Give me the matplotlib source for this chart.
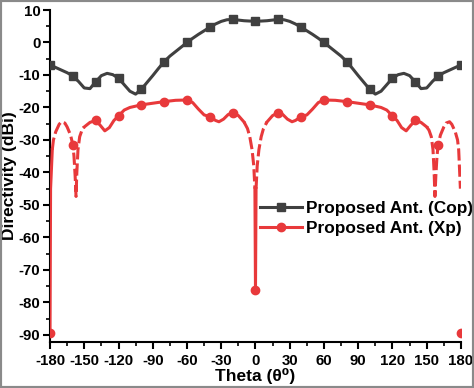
import numpy as np
import matplotlib
matplotlib.use("Agg")
import matplotlib.pyplot as plt
from matplotlib.patches import Rectangle

plt.rcParams['font.family'] = ['Liberation Sans', 'DejaVu Sans']
plt.rcParams['font.weight'] = 'bold'
plt.rcParams['axes.unicode_minus'] = False

# ---- data ----
cop_half_theta = [-180, -175, -170, -165, -160, -155, -150, -145, -140, -135, -130, -125,
                  -120, -115, -110, -105, -100, -95, -90, -85, -80, -75, -70, -65, -60,
                  -55, -50, -45, -40, -35, -30, -25, -20, -15, -10, -5, 0]
cop_half_val = [-6.9, -7.7, -8.5, -9.3, -10.3, -12.0, -14.0, -14.2, -12.1, -10.2, -9.5, -9.9,
                -11.0, -13.0, -15.0, -15.9, -14.4, -12.3, -10.2, -8.0, -5.9, -4.2, -2.8, -1.4, 0.0,
                1.3, 2.5, 3.6, 4.7, 5.7, 6.5, 7.0, 7.1, 6.9, 6.7, 6.6, 6.6]

xp_half_theta = [-180, -179.5, -178, -177, -175, -172, -170, -167, -165, -162, -160, -159,
                 -158, -157.2, -156.5, -155.5, -154, -152, -150, -145, -140, -136, -132,
                 -128, -124, -120, -115, -110, -105, -100, -90, -80, -70, -60, -55, -50,
                 -45, -40, -35, -32, -28, -24, -20, -15, -10, -7, -5, -3, -1.5, -0.5, 0]
xp_half_val = [-89.5, -45.0, -33.0, -30.0, -27.5, -25.2, -24.4, -24.8, -26.0, -28.5, -31.5, -35.0,
               -41.0, -47.4, -40.0, -33.0, -29.0, -27.0, -26.0, -24.6, -24.0, -25.5, -27.2,
               -26.2, -24.0, -22.6, -20.8, -20.0, -19.6, -19.2, -18.7, -18.2, -17.8, -17.7, -18.5, -20.5,
               -22.3, -22.8, -24.0, -24.4, -23.6, -22.2, -21.6, -22.5, -24.5, -26.5, -29.0, -33.0, -38.0, -45.0, -76.2]

# full symmetric pattern
cop_theta = np.array(cop_half_theta + [-t for t in cop_half_theta[-2::-1]])
cop_val = np.array(cop_half_val + cop_half_val[-2::-1])
xp_theta = np.array(xp_half_theta + [-t for t in xp_half_theta[-2::-1]])
xp_val = np.array(xp_half_val + xp_half_val[-2::-1])

x_ticks = [-180, -150, -120, -90, -60, -30, 0, 30, 60, 90, 120, 150, 180]
y_ticks = [10, 0, -10, -20, -30, -40, -50, -60, -70, -80, -90]
labels = ['Proposed Ant. (Cop)', 'Proposed Ant. (Xp)']

cop_color = '#404040'
xp_color = '#e8393b'

fig = plt.figure(figsize=(4.74, 3.88), dpi=100)
ax = fig.add_axes([0.1055, 0.1186, 0.867, 0.8556])

# Cop
ax.plot(cop_theta, cop_val, color=cop_color, lw=2.2, zorder=3)
mk = np.isclose(np.mod(cop_theta, 20), 0)
ax.plot(cop_theta[mk], cop_val[mk], ls='none', marker='s', ms=5.5, color=cop_color, zorder=4)

# Xp: solid in the smooth part and the deep verticals, dashed in the steep parts
dash = (0, (4.0, 1.3))
segments = [(-180, -178, '-'), (-178, -150, dash), (-150, -10, '-'), (-10, -0.5, dash),
            (-0.5, 0.5, '-'), (0.5, 10, dash), (10, 150, '-'), (150, 179.5, dash)]
for lo, hi, ls in segments:
    m = (xp_theta >= lo) & (xp_theta <= hi)
    ax.plot(xp_theta[m], xp_val[m], color=xp_color, lw=2.2, ls=ls, zorder=3)
mk = np.isclose(np.mod(xp_theta, 20), 0)
ax.plot(xp_theta[mk], xp_val[mk], ls='none', marker='o', ms=6, color=xp_color, zorder=4)

# legend handles
h1, = ax.plot([], [], color=cop_color, lw=2.2, marker='s', ms=5.5)
h2, = ax.plot([], [], color=xp_color, lw=2.2, marker='o', ms=6)
leg = ax.legend([h1, h2], labels, loc='upper left', bbox_to_anchor=(0.495, 0.445),
                frameon=False, handlelength=2.4, handletextpad=0.25,
                labelspacing=0.3, borderaxespad=0, prop={'weight': 'bold', 'size': 12.4})

ax.set_xlim(-180, 180)
ax.set_ylim(-92.2, 10)
ax.set_xticks(x_ticks)
ax.set_yticks(y_ticks)
ax.set_xticks(np.arange(-165, 180, 30), minor=True)
ax.set_yticks(np.arange(-85, 10, 10), minor=True)
ax.tick_params(axis='both', which='major', direction='out', length=5, width=1.5,
               labelsize=10.8, pad=2)
ax.tick_params(axis='x', which='major', pad=3.5)
ax.tick_params(axis='both', which='minor', direction='out', length=3, width=1.2)
for lab in ax.get_xticklabels() + ax.get_yticklabels():
    lab.set_fontweight('bold')

ax.spines['top'].set_visible(False)
ax.spines['right'].set_visible(False)
ax.spines['left'].set_linewidth(1.5)
ax.spines['bottom'].set_linewidth(1.5)

ax.set_xlabel('Theta (θ\u2070)', fontsize=12.5, fontweight='bold', labelpad=0)
ax.set_ylabel('Directivity (dBi)', fontsize=12.5, fontweight='bold', labelpad=1)

fig.patches.append(Rectangle((0, 0), 1, 1, transform=fig.transFigure, fill=False,
                             edgecolor='#8a8a8a', lw=3, zorder=10))

fig.savefig('out.png', dpi=100)
